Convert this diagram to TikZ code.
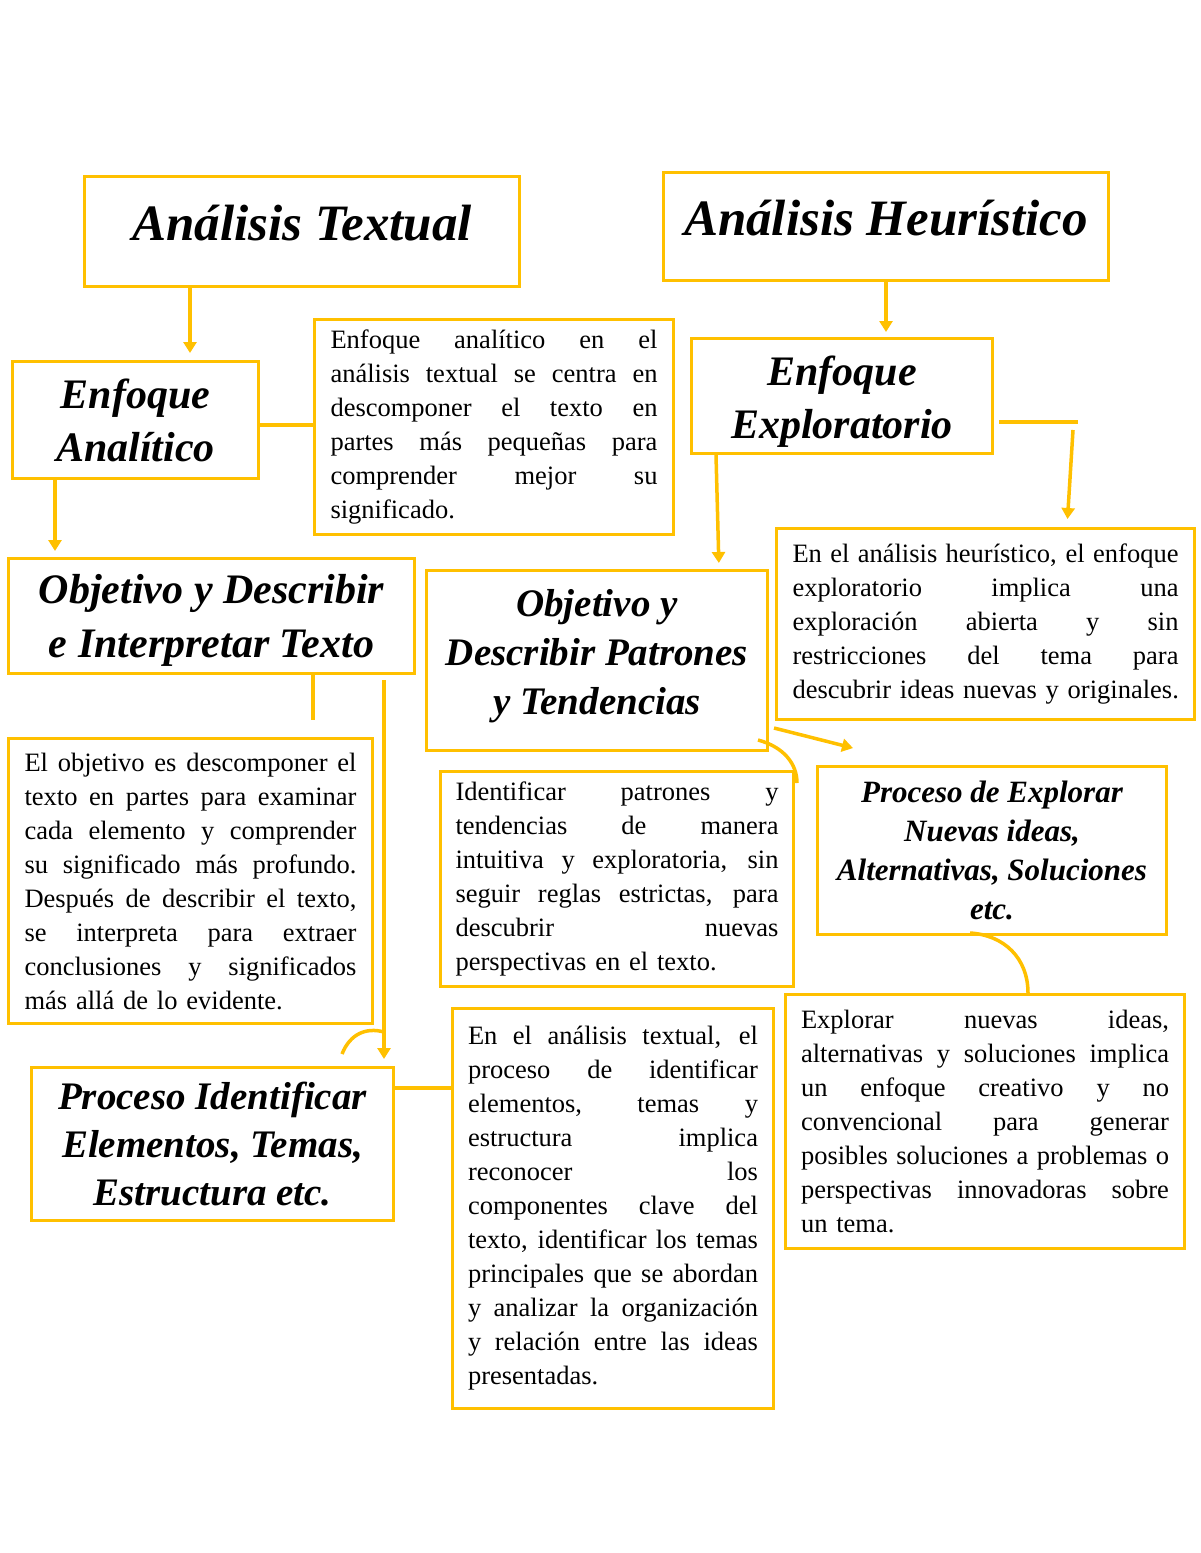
\documentclass[tikz,border=0pt]{standalone}
\usepackage{fontspec}
\setmainfont{Liberation Serif}
\usetikzlibrary{arrows.meta,calc}
\definecolor{gold}{HTML}{FFC000}
\newcommand\jl[1]{\noindent\hbox to\hsize{\spaceskip=0.25em plus 2em minus 0.08em\xspaceskip=0.3em plus 2em minus 0.08em #1}\par}
\newcommand\lastline[1]{\noindent\hbox{#1}\par}
\begin{document}
\begin{tikzpicture}[x=1pt,y=-1pt,
  box/.style={draw=gold,line width=3pt,rectangle,inner sep=0pt,anchor=north west},
  ttl/.style={box,align=center,font=\bfseries\itshape},
  body/.style={box,font=\fontsize{26.5}{34}\selectfont},
  conn/.style={draw=gold,line width=3.5pt},
  arr/.style={conn,-{Triangle[width=13pt,length=11pt]}}]
\fill[white] (0,0) rectangle (1200,1553);
\useasboundingbox (0,0) rectangle (1200,1553);

% title boxes
\node[ttl,minimum width=435pt,minimum height=110pt,font=\fontsize{51}{60}\selectfont\bfseries\itshape] (B1) at (83,175) {\raisebox{18pt}{Análisis Textual}};
\node[ttl,minimum width=445pt,minimum height=108pt,font=\fontsize{51}{60}\selectfont\bfseries\itshape] (B2) at (662,171) {\raisebox{18pt}{Análisis Heurístico}};
\node[ttl,minimum width=246pt,minimum height=117pt,font=\fontsize{42}{53}\selectfont\bfseries\itshape] (EA) at (11,360) {Enfoque\\Analítico};
\node[ttl,minimum width=301pt,minimum height=115pt,font=\fontsize{42}{53}\selectfont\bfseries\itshape] (EE) at (690,337) {\rule{0pt}{41pt}Enfoque\\Exploratorio};
\node[ttl,minimum width=406pt,minimum height=115pt,font=\fontsize{42}{54}\selectfont\bfseries\itshape] (OD) at (7,557) {\rule{0pt}{37pt}Objetivo y Describir\\e Interpretar Texto};
\node[ttl,minimum width=341pt,minimum height=180pt,font=\fontsize{39}{49}\selectfont\bfseries\itshape] (OP) at (425,569) {Objetivo y\\Describir Patrones\\y Tendencias\rule[-17pt]{0pt}{1pt}};
\node[ttl,minimum width=362pt,minimum height=153pt,font=\fontsize{39}{48}\selectfont\bfseries\itshape] (PI) at (30,1066) {Proceso Identificar\\Elementos, Temas,\\Estructura etc.};
\node[ttl,minimum width=349pt,minimum height=168pt,font=\fontsize{31}{39}\selectfont\bfseries\itshape] (PE) at (816,765) {Proceso de Explorar\\Nuevas ideas,\\Alternativas, Soluciones\\etc.};

% text boxes
\node[body,minimum width=359pt,minimum height=215pt,text width=327pt] (TB1) at (313,318) {%
\jl{Enfoque analítico en el}
\jl{análisis textual se centra en}
\jl{descomponer el texto en}
\jl{partes más pequeñas para}
\jl{comprender mejor su}
\lastline{significado.}};

\node[body,minimum width=364pt,minimum height=285pt,text width=332pt] (TB2) at (7,737) {%
\jl{El objetivo es descomponer el}
\jl{texto en partes para examinar}
\jl{cada elemento y comprender}
\jl{su significado más profundo.}
\jl{Después de describir el texto,}
\jl{se interpreta para extraer}
\jl{conclusiones y significados}
\lastline{más allá de lo evidente.}};

\node[body,minimum width=321pt,minimum height=400pt,text width=290pt] (TB3) at (451,1007) {%
\jl{En el análisis textual, el}
\jl{proceso de identificar}
\jl{elementos, temas y}
\jl{estructura implica}
\jl{reconocer los}
\jl{componentes clave del}
\jl{texto, identificar los temas}
\jl{principales que se abordan}
\jl{y analizar la organización}
\jl{y relación entre las ideas}
\lastline{presentadas.}};

\node[body,minimum width=353pt,minimum height=215pt,text width=323pt] (TB4) at (439,770) {%
\jl{Identificar patrones y}
\jl{tendencias de manera}
\jl{intuitiva y exploratoria, sin}
\jl{seguir reglas estrictas, para}
\jl{descubrir nuevas}
\lastline{perspectivas en el texto.}};

\node[body,minimum width=418pt,minimum height=191pt,text width=386pt] (TB5) at (775,527) {%
\jl{En el análisis heurístico, el enfoque}
\jl{exploratorio implica una}
\jl{exploración abierta y sin}
\jl{restricciones del tema para}
\lastline{descubrir ideas nuevas y originales.}};

\node[body,minimum width=399pt,minimum height=254pt,text width=368pt] (TB6) at (784,993) {%
\jl{Explorar nuevas ideas,}
\jl{alternativas y soluciones implica}
\jl{un enfoque creativo y no}
\jl{convencional para generar}
\jl{posibles soluciones a problemas o}
\jl{perspectivas innovadoras sobre}
\lastline{un tema.}};

% connectors left
\draw[arr,shorten >=7pt] (190,0 |- B1.south) -- (190,0 |- EA.north);
\draw[conn] (EA.east |- 0,425) -- (TB1.west |- 0,425);
\draw[arr,shorten >=6pt] (55,0 |- EA.south) -- (55,0 |- OD.north);
\coordinate (c1) at (313,720);
\draw[conn] (313,0 |- OD.south) -- (c1);
\draw[arr,shorten <=5pt,shorten >=7pt] (384,0 |- OD.south) -- (384,0 |- PI.north);
\draw[conn] (342,1054) .. controls (350,1034) and (366,1027) .. (384,1032);
\draw[conn] (PI.east |- 0,1088) -- (TB3.west |- 0,1088);

% connectors right
\draw[arr,shorten >=5pt] (886,0 |- B2.south) -- (886,0 |- EE.north);
\draw[arr,shorten >=6pt] (716,0 |- EE.south) -- (719,0 |- OP.north);
\coordinate (c2) at (1078,422);
\draw[conn] ($(EE.east |- 0,422)+(5,0)$) -- (c2);
\coordinate (c3) at (1073,430);
\draw[arr,shorten >=8pt] (c3) -- (1067,0 |- TB5.north);
\coordinate (c4) at (853,748);
\draw[arr] ($(OP.east |- 0,728)+(5,0)$) -- (c4);
\draw[conn] (758,740) .. controls (784,747) and (797,764) .. (797,783);
\draw[conn] (970,933) .. controls (1004,935) and (1028,958) .. (1028,0 |- TB6.north);
\end{tikzpicture}
\end{document}
